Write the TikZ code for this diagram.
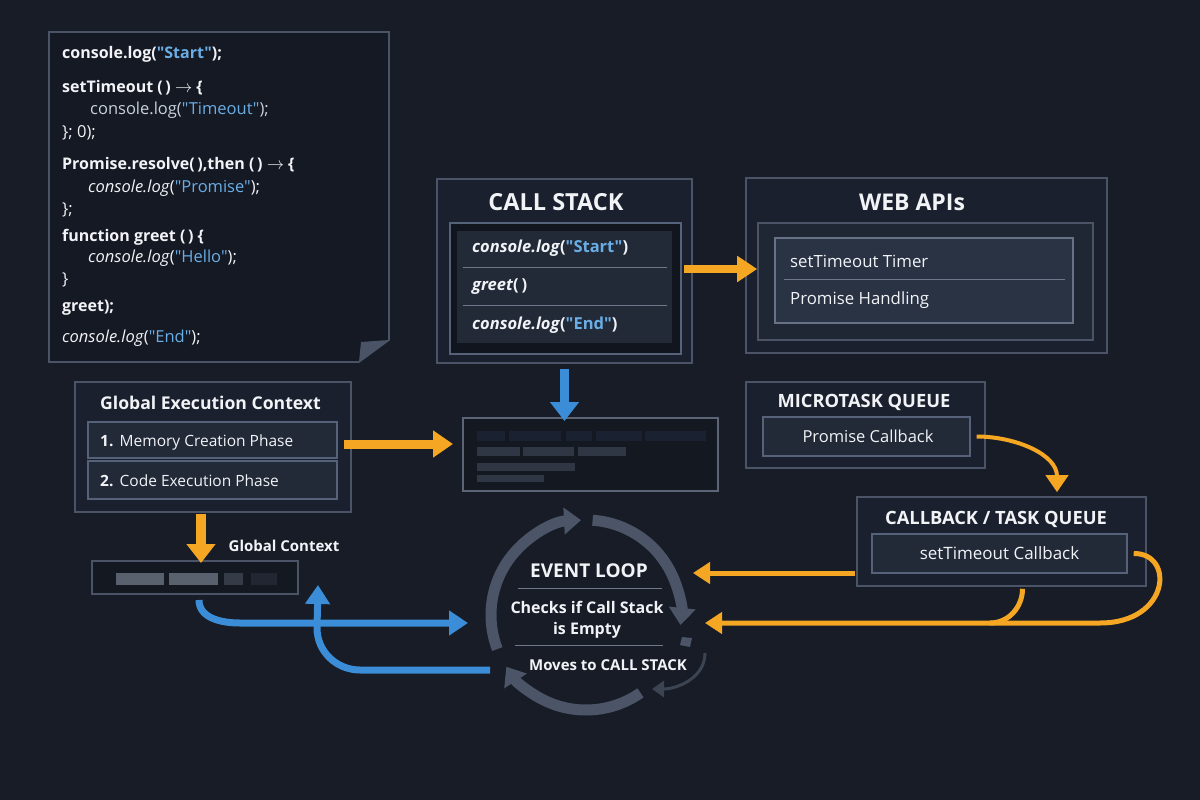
\documentclass[tikz,border=0pt]{standalone}
\usepackage{fontspec}
\setmainfont{Open Sans}[Ligatures=TeXOff]
\usetikzlibrary{arrows.meta}

\definecolor{bg}{HTML}{171C27}
\definecolor{panelfill}{HTML}{1A202D}
\definecolor{panelline}{HTML}{4A5466}
\definecolor{framefill}{HTML}{11151E}
\definecolor{webfill}{HTML}{1F2634}
\definecolor{cellfill}{HTML}{222A38}
\definecolor{cellline}{HTML}{56627A}
\definecolor{apifill}{HTML}{2A3344}
\definecolor{barfill}{HTML}{2F3644}
\definecolor{gbar}{HTML}{5A616E}
\definecolor{strblue}{HTML}{6AAEE6}
\definecolor{jsorange}{HTML}{F5A623}
\definecolor{jsblue}{HTML}{3A8DD6}
\definecolor{ringgrey}{HTML}{4B5567}
\definecolor{txt}{HTML}{F1F3F6}
\definecolor{codegrey}{HTML}{C9D1DC}
\definecolor{rulegrey}{HTML}{6E788A}

\newcommand{\jsstr}[1]{\textcolor{strblue}{"#1"}}

\tikzset{
    panel/.style={
           rectangle,
           draw=panelline, line width=1.6pt,
           fill=panelfill,
           inner sep=0pt},
    stackframe/.style={
           rectangle,
           draw=cellline, line width=2pt,
           fill=framefill,
           inner sep=0pt},
    cell/.style={
           rectangle,
           draw=cellline, line width=1.4pt,
           fill=cellfill,
           text=txt,
           font=\fontsize{16.5}{19}\selectfont,
           inner sep=0pt},
    paneltitle/.style={
           text=txt, inner sep=0pt,
           font=\bfseries\fontsize{23.5}{26}\selectfont},
    boxtitle/.style={
           text=txt, inner sep=0pt,
           font=\bfseries\fontsize{18.3}{21}\selectfont},
    rowtext/.style={
           text=txt, anchor=west, inner sep=0pt,
           font=\fontsize{16.8}{19}\selectfont},
    stackrow/.style={
           text=txt, anchor=west, inner sep=0pt,
           font=\bfseries\fontsize{16.5}{19}\selectfont},
    codeb/.style={
           text=txt, anchor=west, inner sep=0pt,
           font=\bfseries\fontsize{16}{20}\selectfont},
    coden/.style={
           text=codegrey, anchor=west, inner sep=0pt,
           font=\fontsize{16.5}{20}\selectfont},
    codei/.style={
           text=txt, anchor=west, inner sep=0pt,
           font=\fontsize{16.5}{20}\selectfont},
    looptext/.style={
           text=txt, inner sep=0pt,
           font=\bfseries\fontsize{16}{19}\selectfont},
    divider/.style={draw=rulegrey, line width=1pt},
    oarrow/.style={draw=jsorange, line width=8pt,
           -{Triangle[width=25pt,length=20pt]}},
    othin/.style={draw=jsorange, line width=4pt,
           -{Triangle[width=22pt,length=17pt]}},
    omid/.style={draw=jsorange, line width=5pt,
           -{Triangle[width=21pt,length=17pt]}},
    omidline/.style={draw=jsorange, line width=5pt},
    barrow/.style={draw=jsblue, line width=9pt,
           -{Triangle[width=28pt,length=19pt]}},
    bline/.style={draw=jsblue, line width=7pt,
           -{Triangle[width=24pt,length=19pt]}},
    ring/.style={draw=ringgrey, line width=11pt},
    ringtip/.style={ring, -{Triangle[width=26pt,length=17pt]}}
}

\begin{document}
\begin{tikzpicture}[x=1pt,y=1pt]
      \fill[bg] (0,0) rectangle (1200,-800);
      \useasboundingbox (0,0) rectangle (1200,-800);

      % source code sheet
      \draw[panelline, line width=1.6pt, fill=bg!90!black]
            (49,-32) -- (389,-32) -- (389,-340) -- (359,-362) -- (49,-362) -- cycle;
      \fill[panelline] (359,-362) -- (361,-342) -- (389,-340) -- cycle;
      \node[codeb] (c1) at (62,-54) {console.log(\jsstr{Start});};
      \node[codeb] (c2) at (62,-88) {setTimeout (\,) $\rightarrow$ \{};
      \node[coden] (c3) at (90,-110) {console.log(\jsstr{Timeout});};
      \node[codei] (c4) at (62,-133) {\}; 0);};
      \node[codeb] (c5) at (62,-165) {Promise.resolve(\,),then (\,) $\rightarrow$ \{};
      \node[codei] (c6) at (88,-188) {\textit{console.log}(\jsstr{Promise});};
      \node[codei] (c7) at (62,-210) {\};};
      \node[codeb] (c8) at (62,-237) {function greet (\,) \{};
      \node[codei] (c9) at (88,-258) {\textit{console.log}(\jsstr{Hello});};
      \node[codei] (c10) at (62,-280) {\}};
      \node[codeb] (c11) at (62,-308) {greet);};
      \node[codei] (c12) at (62,-338) {\textit{console.log}(\jsstr{End});};

      % call stack
      \node[panel, minimum width=255, minimum height=184] (cspanel) at (564.5,-271) {};
      \node[paneltitle] (cstitle) at (556,-202) {CALL STACK};
      \node[stackframe, minimum width=231, minimum height=131] (csframe) at (565.5,-288.5) {};
      \node[cell, draw=none, minimum width=215, minimum height=112] (cscell) at (564.5,-287) {};
      \node[stackrow] (s1) at (472,-248) {\textit{console.log}(\jsstr{Start})};
      \node[stackrow] (s2) at (472,-287) {\textit{greet}(\,)};
      \node[stackrow] (s3) at (472,-325) {\textit{console.log}(\jsstr{End})};
      \draw[divider] (463,-267) -- (667,-267);
      \draw[divider] (463,-305) -- (667,-305);

      % web apis
      \node[panel, minimum width=361, minimum height=175] (webpanel) at (926.5,-265.5) {};
      \node[paneltitle, font=\bfseries\fontsize{23}{26}\selectfont] (webtitle) at (912,-202) {WEB APIs};
      \node[panel, fill=webfill, minimum width=335, minimum height=117] (webframe) at (925.5,-281.5) {};
      \node[cell, fill=apifill, draw=cellline!90!white, minimum width=298, minimum height=85] (apibox) at (924,-280.5) {};
      \node[rowtext] (api1) at (790,-261) {setTimeout Timer};
      \node[rowtext] (api2) at (790,-300) {Promise Handling};
      \draw[divider] (784,-279) -- (1065,-279);

      % global execution context
      \node[panel, minimum width=276, minimum height=130] (gec) at (213,-447) {};
      \node[boxtitle, font=\bfseries\fontsize{17.6}{21}\selectfont] (gectitle) at (210.5,-403) {Global Execution Context};
      \node[cell, minimum width=249, minimum height=36] (gec1) at (212.5,-440) {};
      \node[cell, minimum width=249, minimum height=38] (gec2) at (212.5,-480) {};
      \node[rowtext, font=\fontsize{15.5}{19}\selectfont] (ph1) at (100,-442) {\textbf{1.}\hspace{0.4em}Memory Creation Phase};
      \node[rowtext, font=\fontsize{15.5}{19}\selectfont] (ph2) at (100,-481) {\textbf{2.}\hspace{0.4em}Code Execution Phase};

      % execution placeholder
      \node[panel, fill=bg!85!black, draw=panelline!90!white, line width=2pt, minimum width=255, minimum height=73] (blank) at (590.5,-454.5) {};
      \fill[barfill!110] (477,-431) rectangle (505,-441);
      \fill[barfill!110] (509,-431) rectangle (561,-441);
      \fill[barfill!110] (566,-431) rectangle (592,-441);
      \fill[barfill!110] (596,-431) rectangle (642,-441);
      \fill[barfill!110] (645,-431) rectangle (706,-441);
      \fill[barfill] (477,-447) rectangle (520,-456);
      \fill[barfill] (523,-447) rectangle (574,-456);
      \fill[barfill] (578,-447) rectangle (626,-456);
      \fill[barfill] (477,-463) rectangle (575,-471);
      \fill[barfill] (477,-475) rectangle (544,-482);

      % microtask queue
      \node[panel, minimum width=239, minimum height=86] (micro) at (865.5,-425) {};
      \node[boxtitle] (microtitle) at (864,-402) {MICROTASK QUEUE};
      \node[cell, minimum width=207, minimum height=39] (microcell) at (866.5,-436.5) {\hspace{3pt}Promise Callback};

      % callback / task queue
      \node[panel, minimum width=289, minimum height=89] (cbpanel) at (1001.5,-541.5) {};
      \node[boxtitle] (cbtitle) at (996,-519) {CALLBACK / TASK QUEUE};
      \node[cell, font=\fontsize{17}{19}\selectfont, minimum width=255, minimum height=39] (cbcell) at (999.5,-553.5) {setTimeout Callback\hspace{14pt}};

      % global context
      \node[panel, fill=bg!85!black, line width=2pt, minimum width=206, minimum height=33] (gbox) at (195,-577.5) {};
      \fill[gbar] (116,-573) rectangle (164,-585);
      \fill[gbar] (169,-573) rectangle (218,-585);
      \fill[gbar!45!bg] (224,-573) rectangle (243,-585);
      \fill[gbar!15!bg] (251,-573) rectangle (277,-585);
      \node[text=txt, font=\bfseries\fontsize{15}{18}\selectfont] (gctx) at (284,-546) {Global Context};

      % event loop
      \draw[ringtip] (586,-615) ++(201:95) arc[start angle=201, end angle=93, radius=95];
      \draw[ringtip] (586,-615) ++(86:95) arc[start angle=86, end angle=-6, radius=95];
      \draw[ringtip] (586,-615) ++(-55:95) arc[start angle=-55, end angle=-147, radius=95];
      \fill[ringgrey] (682,-637) -- (692,-638) -- (690,-647) -- (680,-645) -- cycle;
      \draw[draw=ringgrey!80!black, line width=3pt, -{Triangle[width=16pt,length=12pt]}]
            (705,-653) to[out=-90,in=0] (652,-689);
      \node[boxtitle, font=\bfseries\fontsize{19}{22}\selectfont] (evtitle) at (589,-571) {EVENT LOOP};
      \node[looptext] (chk1) at (587,-607) {Checks if Call Stack};
      \node[looptext] (chk2) at (587,-630) {is Empty};
      \node[looptext, font=\bfseries\fontsize{15}{18}\selectfont] (mv) at (608,-665) {Moves to CALL STACK};
      \draw[divider] (518,-588) -- (662,-588);
      \draw[divider] (515,-645) -- (663,-645);
      \coordinate (loopin1) at (693,-573);
      \coordinate (loopin2) at (705,-623);
      \coordinate (loopin3) at (468,-623);
      \coordinate (loopout) at (490,-670);

      % connectors
      \draw[oarrow] ([xshift=2pt,yshift=19.5pt]csframe.east) -- ([yshift=12.5pt]webframe.west);
      \draw[barrow] ([yshift=-5pt]cspanel.south) -- ([yshift=-4pt]cspanel.south |- blank.north);
      \draw[oarrow, line width=9pt, -{Triangle[width=26pt,length=20pt]}] ([xshift=-8pt,yshift=3pt]gec.east) -- ([xshift=-9pt,yshift=10.5pt]blank.west);
      \draw[oarrow, line width=10pt, -{Triangle[width=28pt,length=19pt]}] ([xshift=-12pt,yshift=-1pt]gec.south) -- ([xshift=6pt,yshift=-3pt]gbox.north);
      \draw[othin] ([xshift=6pt]microcell.east) to[out=0,in=90] ([xshift=55.5pt,yshift=4pt]cbpanel.north);
      \draw[omid] ([xshift=-1pt,yshift=-31.5pt]cbpanel.west) -- (loopin1);
      \draw[omidline] ([xshift=21pt,yshift=-2pt]cbpanel.south) to[out=-90,in=0] (990,-623);
      \draw[omid] ([xshift=6pt]cbcell.east) .. controls (1175,-553) and (1170,-623) .. (1100,-623) -- (loopin2);
      \draw[bline] ([xshift=4pt,yshift=-5pt]gbox.south) to[out=-90,in=180] (240,-623) -- (loopin3);
      \draw[bline] (loopout) -- (360,-670) to[out=180,in=-90] (317,-628) -- ([xshift=19pt,yshift=-7.5pt]gbox.east);
\end{tikzpicture}
\end{document}
